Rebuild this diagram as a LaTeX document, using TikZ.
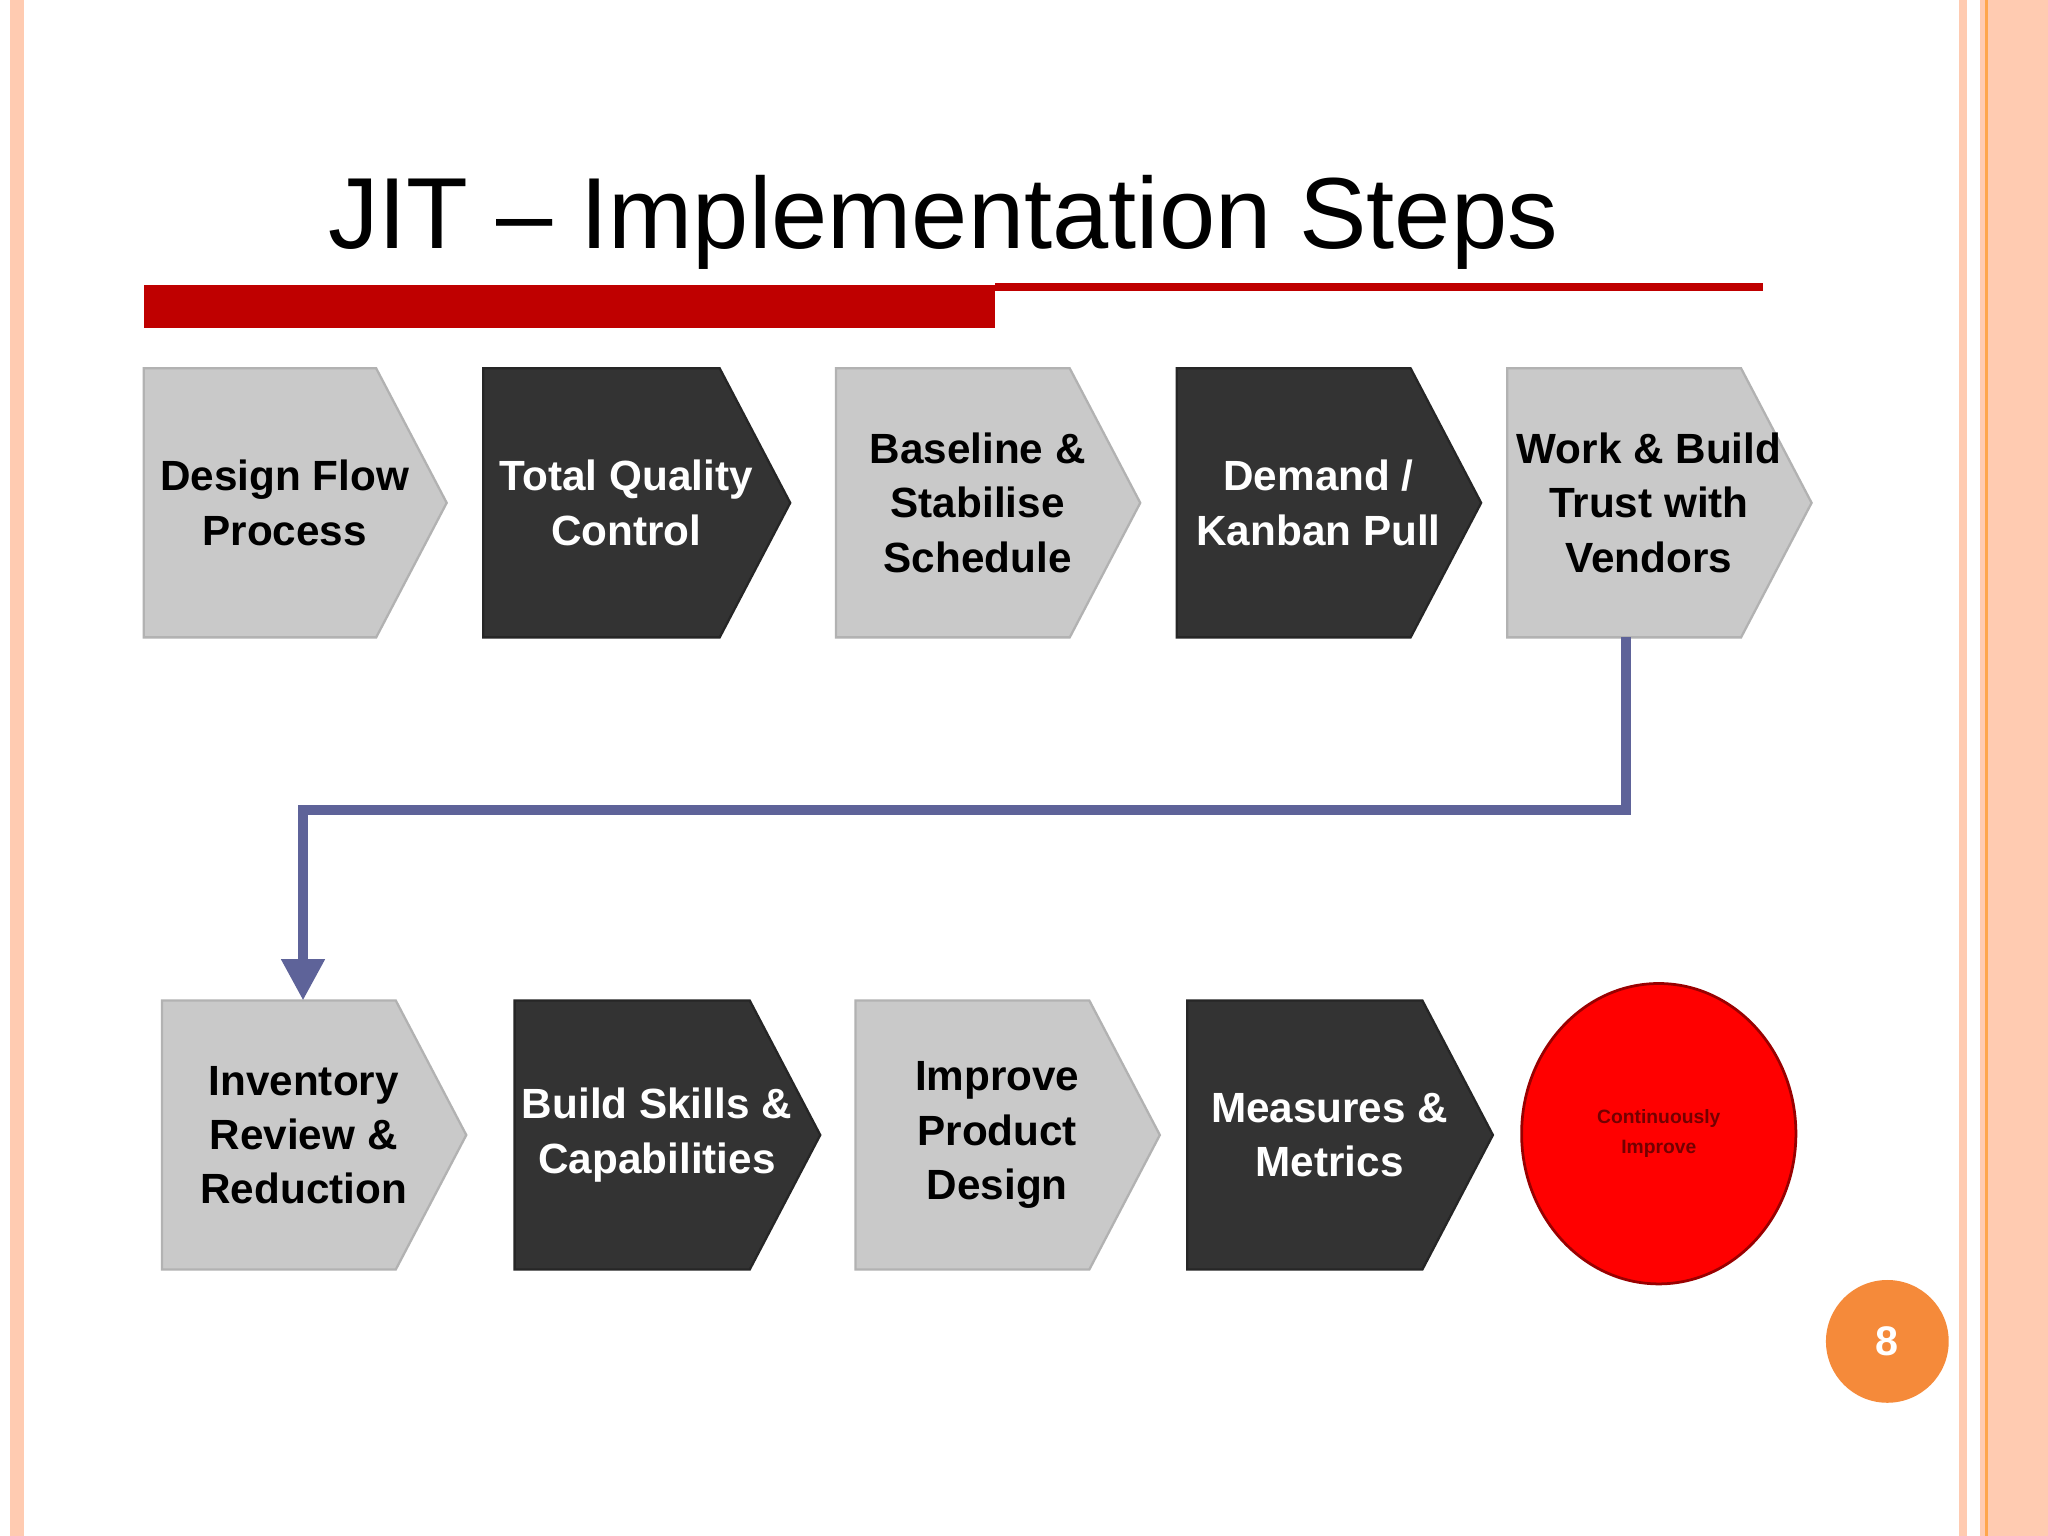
\documentclass[tikz,border=0pt]{standalone}
\usepackage{fontspec}
\setmainfont{Liberation Sans}
\usetikzlibrary{arrows.meta}
\begin{document}
\begin{tikzpicture}[x=0.01cm,y=-0.01cm,
  lt/.style={fill=black!21,draw=black!30,line width=0.5pt},
  dk/.style={fill=black!80,draw=black!85,line width=0.5pt},
  lbl/.style={font=\bfseries\fontsize{9.2}{11.8}\selectfont,align=center},
  conn/.style={color={rgb,255:red,94;green,99;blue,153},line width=2.1pt}]
\useasboundingbox (0,0) rectangle (1568,1176);
\fill[white] (0,0) rectangle (1568,1176);
% side borders
\fill[orange!35!pink!60] (8,0) rectangle (18,1176);
\fill[orange!35!pink!60] (1500,0) rectangle (1506,1176);
\fill[orange!35!pink!60] (1516,0) rectangle (1568,1176);
\draw[orange!70,line width=0.6pt] (1521,0) -- (1521,1176);
% title
\node[font=\fontsize{22}{26}\selectfont,anchor=base] (title) at (722,190) {JIT – Implementation Steps};
\fill[red!75!black] (110,218) rectangle (762,251);
\fill[red!75!black] (762,217) rectangle (1350,223);
\newcommand{\chev}[6]{% style, name, x0, x1, y0, text
  \pgfmathsetmacro{\xt}{#4-54}
  \path[#1] (#3,#5) -- (\xt,#5) -- (#4,#5+103) -- (\xt,#5+206) -- (#3,#5+206) -- cycle;
  \node[lbl,#1,draw=none,fill=none] (#2) at ({(#3+#4)/2-8},#5+103) {#6};}
\chev{lt}{a1}{110}{342}{282}{Design Flow\\Process}
\chev{dk}{a2}{370}{605}{282}{\color{white}Total Quality\\\color{white}Control}
\chev{lt}{a3}{640}{873}{282}{Baseline \&\\Stabilise\\Schedule}
\chev{dk}{a4}{901}{1134}{282}{\color{white}Demand /\\\color{white}Kanban Pull}
\chev{lt}{a5}{1154}{1387}{282}{Work \& Build\\Trust with\\Vendors}
\chev{lt}{b1}{124}{357}{766}{Inventory\\Review \&\\Reduction}
\chev{dk}{b2}{394}{628}{766}{\color{white}Build Skills \&\\\color{white}Capabilities}
\chev{lt}{b3}{655}{888}{766}{Improve\\Product\\Design}
\chev{dk}{b4}{909}{1143}{766}{\color{white}Measures \&\\\color{white}Metrics}
% circle
\draw[fill=red,draw=red!60!black,line width=0.6pt] (1270,868) ellipse (105 and 115);
\node[font=\bfseries\fontsize{4.2}{6.5}\selectfont,text=red!45!black,align=center] (c) at (1270,868) {Continuously\\Improve};
% connector
\coordinate (p1) at (1245,488);
\coordinate (p2) at (232,766);
\draw[conn,-{Triangle[width=9pt,length=9pt]}] (p1) -- (1245,620) -- (232,620) -- (p2);
% page number
\fill[color={rgb,255:red,245;green,138;blue,58}] (1445,1027) circle (47);
\node[font=\bfseries\fontsize{9}{10}\selectfont,text=white] (pg) at (1445,1027) {8};
\end{tikzpicture}
\end{document}
